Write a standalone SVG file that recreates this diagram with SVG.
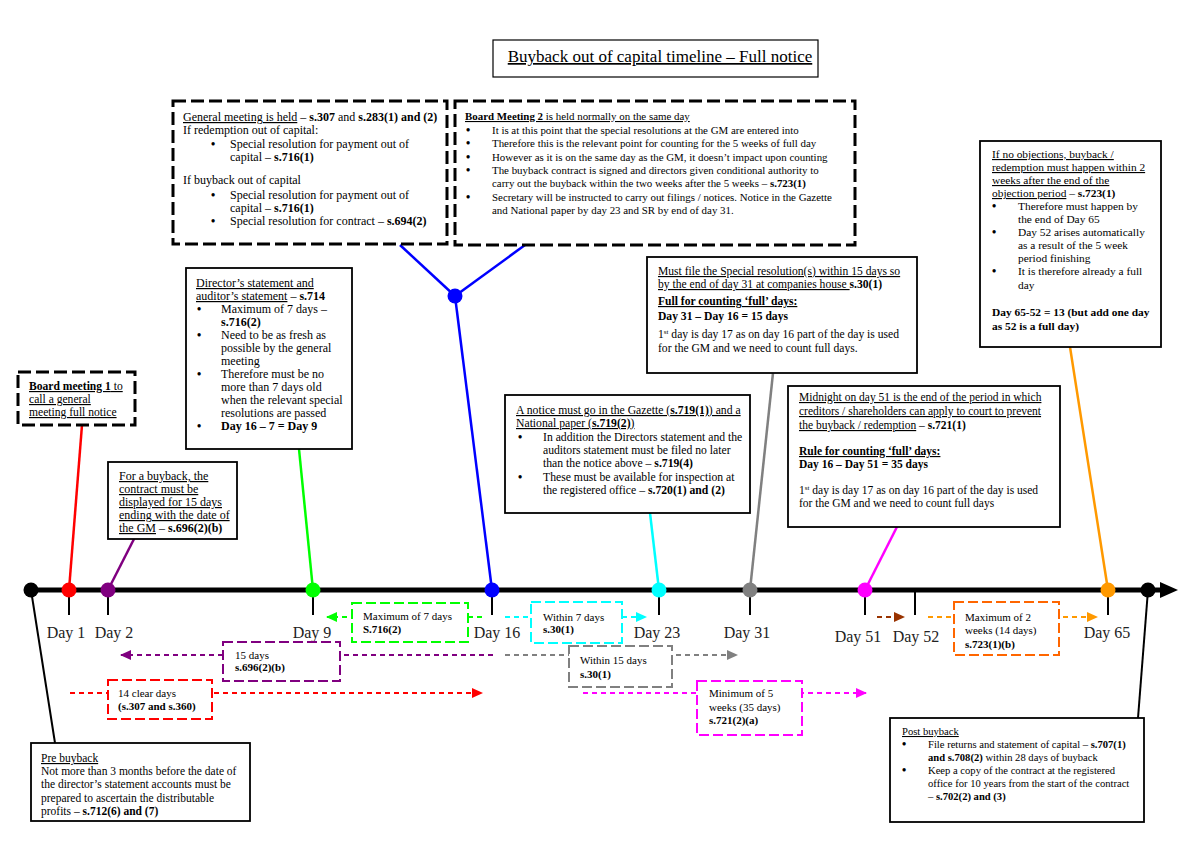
<svg xmlns="http://www.w3.org/2000/svg" width="1200" height="849" viewBox="0 0 1200 849">
<defs>
<style>
.t{font-family:"Liberation Serif","Times New Roman",serif;font-size:11px;fill:#000}
.b{font-weight:bold}
.u{text-decoration:underline}
.bl{font-family:"Liberation Serif","Times New Roman",serif;font-size:12px;font-weight:bold;fill:#000}
.day{font-family:"Liberation Serif","Times New Roman",serif;font-size:16px;fill:#222}
.title{font-family:"Liberation Serif","Times New Roman",serif;font-size:17px;fill:#000;text-decoration:underline}
.box{fill:#fff;stroke:#000;stroke-width:1.8}
.dbox{fill:#fff;stroke:#000;stroke-width:3;stroke-dasharray:13 5}
.tbox{fill:#fff;stroke-width:2;stroke-dasharray:10 4}
.darr{fill:none;stroke-width:2;stroke-dasharray:5 4}
.tick{stroke:#000;stroke-width:2}
.con{fill:none;stroke-width:2.5}
#general-meeting .t{font-size:12px}
#board-meeting-2 .t{font-size:10.9px}
#directors-statement .t{font-size:12px}
#board-meeting-1 .t{font-size:11.6px}
#contract-display .t{font-size:12px}
#file-resolutions .t{font-size:11.6px}
#gazette-notice .t{font-size:11.7px}
#objection-period .t{font-size:11.5px}
#no-objections .t{font-size:11.4px}
#pre-buyback .t{font-size:11.5px}
#post-buyback .t{font-size:10.6px}
</style>
<marker id="aR" markerWidth="11" markerHeight="10" refX="10" refY="5" orient="auto" markerUnits="userSpaceOnUse"><path d="M0,0 L11,5 L0,10 z" fill="#ff0000"/></marker>
<marker id="aP" markerWidth="11" markerHeight="10" refX="10" refY="5" orient="auto" markerUnits="userSpaceOnUse"><path d="M0,0 L11,5 L0,10 z" fill="#800080"/></marker>
<marker id="aG" markerWidth="11" markerHeight="10" refX="10" refY="5" orient="auto" markerUnits="userSpaceOnUse"><path d="M0,0 L11,5 L0,10 z" fill="#00ff00"/></marker>
<marker id="aC" markerWidth="11" markerHeight="10" refX="10" refY="5" orient="auto" markerUnits="userSpaceOnUse"><path d="M0,0 L11,5 L0,10 z" fill="#00ffff"/></marker>
<marker id="aY" markerWidth="11" markerHeight="10" refX="10" refY="5" orient="auto" markerUnits="userSpaceOnUse"><path d="M0,0 L11,5 L0,10 z" fill="#808080"/></marker>
<marker id="aM" markerWidth="11" markerHeight="10" refX="10" refY="5" orient="auto" markerUnits="userSpaceOnUse"><path d="M0,0 L11,5 L0,10 z" fill="#ff00ff"/></marker>
<marker id="aB" markerWidth="11" markerHeight="10" refX="10" refY="5" orient="auto" markerUnits="userSpaceOnUse"><path d="M0,0 L11,5 L0,10 z" fill="#993300"/></marker>
<marker id="aO" markerWidth="11" markerHeight="10" refX="10" refY="5" orient="auto" markerUnits="userSpaceOnUse"><path d="M0,0 L11,5 L0,10 z" fill="#ff9900"/></marker>
</defs>
<rect width="1200" height="849" fill="#fff"/>

<g id="title">
<rect x="493" y="40" width="325" height="37" fill="#fff" stroke="#000" stroke-width="1.2"/>
<text class="title" x="660" y="62" text-anchor="middle">Buyback out of capital timeline – Full notice</text>
</g>

<g id="connectors">
<line class="con" x1="82" y1="425" x2="69" y2="590" stroke="#ff0000"/>
<line class="con" x1="134" y1="539" x2="108" y2="590" stroke="#800080"/>
<line class="con" x1="299" y1="449" x2="313" y2="590" stroke="#00ff00"/>
<line class="con" x1="400" y1="245" x2="455" y2="296" stroke="#0000ff"/>
<line class="con" x1="525" y1="245" x2="455" y2="296" stroke="#0000ff"/>
<line class="con" x1="455" y1="296" x2="492" y2="590" stroke="#0000ff"/>
<line class="con" x1="650" y1="513" x2="659" y2="590" stroke="#00ffff"/>
<line class="con" x1="773" y1="373" x2="750" y2="590" stroke="#808080"/>
<line class="con" x1="903" y1="515" x2="865" y2="590" stroke="#ff00ff"/>
<line class="con" x1="1070" y1="347" x2="1108" y2="590" stroke="#ff9900"/>
<line x1="31" y1="590" x2="55" y2="743" stroke="#000" stroke-width="2"/>
<line x1="1148" y1="590" x2="1138" y2="718" stroke="#000" stroke-width="2"/>
<line x1="31" y1="590" x2="1162" y2="590" stroke="#000" stroke-width="5"/>
<path d="M1160,582 L1178,590 L1160,598 z" fill="#000"/>
<line class="tick" x1="69" y1="590" x2="69" y2="615"/>
<line class="tick" x1="108" y1="590" x2="108" y2="615"/>
<line class="tick" x1="313" y1="590" x2="313" y2="615"/>
<line class="tick" x1="492" y1="590" x2="492" y2="615"/>
<line class="tick" x1="659" y1="590" x2="659" y2="615"/>
<line class="tick" x1="750" y1="590" x2="750" y2="615"/>
<line class="tick" x1="865" y1="590" x2="865" y2="615"/>
<line class="tick" x1="915" y1="590" x2="915" y2="615"/>
<line class="tick" x1="1108" y1="590" x2="1108" y2="615"/>
<circle cx="31" cy="590" r="7.5" fill="#000"/>
<circle cx="69" cy="590" r="7.5" fill="#ff0000"/>
<circle cx="108" cy="590" r="7.5" fill="#800080"/>
<circle cx="313" cy="590" r="7.5" fill="#00ff00"/>
<circle cx="455" cy="296" r="7.5" fill="#0000ff"/>
<circle cx="492" cy="590" r="7.5" fill="#0000ff"/>
<circle cx="659" cy="590" r="7.5" fill="#00ffff"/>
<circle cx="750" cy="590" r="7.5" fill="#808080"/>
<circle cx="865" cy="590" r="7.5" fill="#ff00ff"/>
<circle cx="1108" cy="590" r="7.5" fill="#ff9900"/>
<circle cx="1148" cy="590" r="7.5" fill="#000"/>
<line class="darr" x1="482" y1="617" x2="327" y2="617" stroke="#00ff00" marker-end="url(#aG)"/>
<line class="darr" x1="493" y1="655" x2="121" y2="655" stroke="#800080" marker-end="url(#aP)"/>
<line class="darr" x1="70" y1="693" x2="482" y2="693" stroke="#ff0000" marker-end="url(#aR)"/>
<line class="darr" x1="505" y1="617" x2="646" y2="617" stroke="#00ffff" marker-end="url(#aC)"/>
<line class="darr" x1="505" y1="655" x2="737" y2="655" stroke="#808080" marker-end="url(#aY)"/>
<line class="darr" x1="583" y1="693" x2="866" y2="693" stroke="#ff00ff" marker-end="url(#aM)"/>
<line class="darr" x1="877" y1="617" x2="904" y2="617" stroke="#993300" marker-end="url(#aB)"/>
<line class="darr" x1="928" y1="617" x2="1097" y2="617" stroke="#ff9900" marker-end="url(#aO)"/>
</g>

<g id="day-labels">
<text class="day" x="66" y="638" text-anchor="middle">Day 1</text>
<text class="day" x="114" y="638" text-anchor="middle">Day 2</text>
<text class="day" x="312" y="638" text-anchor="middle">Day 9</text>
<text class="day" x="497" y="638" text-anchor="middle">Day 16</text>
<text class="day" x="657" y="638" text-anchor="middle">Day 23</text>
<text class="day" x="747" y="638" text-anchor="middle">Day 31</text>
<text class="day" x="858" y="642" text-anchor="middle">Day 51</text>
<text class="day" x="916" y="642" text-anchor="middle">Day 52</text>
<text class="day" x="1107" y="638" text-anchor="middle">Day 65</text>
</g>

<g id="period-green">
<rect class="tbox" x="352" y="603" width="116" height="39" stroke="#00ff00"/>
<text class="t" x="363" y="620">Maximum of 7 days</text>
<text class="t b" x="363" y="633">S.716(2)</text>
</g>
<g id="period-purple">
<rect class="tbox" x="223" y="642" width="117" height="39" stroke="#800080"/>
<text class="t" x="235" y="659">15 days</text>
<text class="t b" x="235" y="671">s.696(2)(b)</text>
</g>
<g id="period-red">
<rect class="tbox" x="108" y="680" width="104" height="39" stroke="#ff0000"/>
<text class="t" x="118" y="697">14 clear days</text>
<text class="t b" x="118" y="710">(s.307 and s.360)</text>
</g>
<g id="period-cyan">
<rect class="tbox" x="531" y="602" width="91" height="41" stroke="#00ffff"/>
<text class="t" x="543" y="621">Within 7 days</text>
<text class="t b" x="543" y="633">s.30(1)</text>
</g>
<g id="period-gray">
<rect class="tbox" x="569" y="646" width="103" height="41" stroke="#808080"/>
<text class="t" x="580" y="664">Within 15 days</text>
<text class="t b" x="580" y="678">s.30(1)</text>
</g>
<g id="period-magenta">
<rect class="tbox" x="697" y="681" width="105" height="54" stroke="#ff00ff"/>
<text class="t" x="709" y="697">Minimum of 5</text>
<text class="t" x="709" y="711">weeks (35 days)</text>
<text class="t b" x="709" y="724">s.721(2)(a)</text>
</g>
<g id="period-orange">
<rect class="tbox" x="954" y="602" width="105" height="53" stroke="#ff6600"/>
<text class="t" x="965" y="621">Maximum of 2</text>
<text class="t" x="965" y="634">weeks (14 days)</text>
<text class="t b" x="965" y="648">s.723(1)(b)</text>
</g>

<g id="general-meeting">
<rect class="dbox" x="173" y="101" width="274" height="143"/>
<text class="t" x="183" y="121"><tspan class="u">General meeting is held</tspan> – <tspan class="b">s.307</tspan> and <tspan class="b">s.283(1) and (2)</tspan></text>
<text class="t" x="183" y="134">If redemption out of capital:</text>
<text class="bl" x="211" y="148">•</text><text class="t" x="230" y="148">Special resolution for payment out of</text>
<text class="t" x="230" y="161">capital – <tspan class="b">s.716(1)</tspan></text>
<text class="t" x="183" y="184">If buyback out of capital</text>
<text class="bl" x="211" y="199">•</text><text class="t" x="230" y="199">Special resolution for payment out of</text>
<text class="t" x="230" y="212">capital – <tspan class="b">s.716(1)</tspan></text>
<text class="bl" x="211" y="225">•</text><text class="t" x="230" y="225">Special resolution for contract – <tspan class="b">s.694(2)</tspan></text>
</g>

<g id="board-meeting-2">
<rect class="dbox" x="455" y="101" width="400" height="144"/>
<text class="t" x="465" y="120"><tspan class="u b">Board Meeting 2</tspan><tspan class="u"> is held normally on the same day</tspan></text>
<text class="bl" x="466" y="134">•</text><text class="t" x="492" y="134">It is at this point that the special resolutions at the GM are entered into</text>
<text class="bl" x="466" y="147">•</text><text class="t" x="492" y="147">Therefore this is the relevant point for counting for the 5 weeks of full day</text>
<text class="bl" x="466" y="161">•</text><text class="t" x="492" y="161">However as it is on the same day as the GM, it doesn’t impact upon counting</text>
<text class="bl" x="466" y="174">•</text><text class="t" x="492" y="174">The buyback contract is signed and directors given conditional authority to</text>
<text class="t" x="492" y="187">carry out the buyback within the two weeks after the 5 weeks – <tspan class="b">s.723(1)</tspan></text>
<text class="bl" x="466" y="201">•</text><text class="t" x="492" y="201">Secretary will be instructed to carry out filings / notices. Notice in the Gazette</text>
<text class="t" x="492" y="214">and National paper by day 23 and SR by end of day 31.</text>
</g>

<g id="directors-statement">
<rect class="box" x="186" y="268" width="166" height="181"/>
<text class="t u" x="196" y="287">Director’s statement and</text>
<text class="t" x="196" y="300"><tspan class="u">auditor’s statement</tspan> – <tspan class="b">s.714</tspan></text>
<text class="bl" x="197" y="313">•</text><text class="t" x="221" y="313">Maximum of 7 days –</text>
<text class="t b" x="221" y="326">s.716(2)</text>
<text class="bl" x="197" y="339">•</text><text class="t" x="221" y="339">Need to be as fresh as</text>
<text class="t" x="221" y="352">possible by the general</text>
<text class="t" x="221" y="365">meeting</text>
<text class="bl" x="197" y="378">•</text><text class="t" x="221" y="378">Therefore must be no</text>
<text class="t" x="221" y="391">more than 7 days old</text>
<text class="t" x="221" y="404">when the relevant special</text>
<text class="t" x="221" y="417">resolutions are passed</text>
<text class="bl" x="197" y="430">•</text><text class="t b" x="221" y="430">Day 16 – 7 = Day 9</text>
</g>

<g id="board-meeting-1">
<rect class="dbox" x="18" y="372" width="117" height="53"/>
<text class="t u" x="29" y="390"><tspan class="b">Board meeting 1</tspan> to</text>
<text class="t u" x="29" y="403">call a general </text>
<text class="t u" x="29" y="416">meeting full notice</text>
</g>

<g id="contract-display">
<rect class="box" x="108" y="462" width="129" height="77"/>
<text class="t u" x="119" y="480">For a buyback, the</text>
<text class="t u" x="119" y="493">contract must be</text>
<text class="t u" x="119" y="506">displayed for 15 days</text>
<text class="t u" x="119" y="519">ending with the date of</text>
<text class="t" x="119" y="532"><tspan class="u">the GM</tspan> – <tspan class="b">s.696(2)(b)</tspan></text>
</g>

<g id="file-resolutions">
<rect class="box" x="647" y="257" width="270" height="116"/>
<text class="t u" x="658" y="275">Must file the Special resolution(s) within 15 days so</text>
<text class="t" x="658" y="288"><tspan class="u">by the end of day 31 at companies house </tspan><tspan class="b">s.30(1)</tspan></text>
<text class="t b u" x="658" y="305">Full for counting ‘full’ days:</text>
<text class="t b" x="658" y="320">Day 31 – Day 16 = 15 days</text>
<text class="t" x="658" y="338">1<tspan font-size="7" dy="-4">st</tspan><tspan dy="4"> day is day 17 as on day 16 part of the day is used</tspan></text>
<text class="t" x="658" y="352">for the GM and we need to count full days.</text>
</g>

<g id="gazette-notice">
<rect class="box" x="505" y="395" width="245" height="118"/>
<text class="t u" x="516" y="414">A notice must go in the Gazette (<tspan class="b">s.719(1)</tspan>) and a</text>
<text class="t u" x="516" y="427">National paper (<tspan class="b">s.719(2)</tspan>)</text>
<text class="bl" x="518" y="441">•</text><text class="t" x="543" y="441">In addition the Directors statement and the</text>
<text class="t" x="543" y="454">auditors statement must be filed no later</text>
<text class="t" x="543" y="467">than the notice above – <tspan class="b">s.719(4)</tspan></text>
<text class="bl" x="518" y="481">•</text><text class="t" x="543" y="481">These must be available for inspection at</text>
<text class="t" x="543" y="494">the registered office – <tspan class="b">s.720(1) and (2)</tspan></text>
</g>

<g id="objection-period">
<rect class="box" x="788" y="386" width="272" height="141"/>
<text class="t u" x="799" y="401">Midnight on day 51 is the end of the period in which</text>
<text class="t u" x="799" y="415">creditors / shareholders can apply to court to prevent</text>
<text class="t" x="799" y="429"><tspan class="u">the buyback / redemption</tspan> – <tspan class="b">s.721(1)</tspan></text>
<text class="t b u" x="799" y="455">Rule for counting ‘full’ days:</text>
<text class="t b" x="799" y="468">Day 16 – Day 51 = 35 days</text>
<text class="t" x="799" y="494">1<tspan font-size="7" dy="-4">st</tspan><tspan dy="4"> day is day 17 as on day 16 part of the day is used</tspan></text>
<text class="t" x="799" y="507">for the GM and we need to count full days</text>
</g>

<g id="no-objections">
<rect class="box" x="980" y="141" width="181" height="206"/>
<text class="t u" x="992" y="158">If no objections, buyback /</text>
<text class="t u" x="992" y="171">redemption must happen within 2</text>
<text class="t u" x="992" y="184">weeks after the end of the</text>
<text class="t" x="992" y="197"><tspan class="u">objection period</tspan> – <tspan class="b">s.723(1)</tspan></text>
<text class="bl" x="992" y="210">•</text><text class="t" x="1018" y="210">Therefore must happen by</text>
<text class="t" x="1018" y="223">the end of Day 65</text>
<text class="bl" x="992" y="236">•</text><text class="t" x="1018" y="236">Day 52 arises automatically</text>
<text class="t" x="1018" y="249">as a result of the 5 week</text>
<text class="t" x="1018" y="262">period finishing</text>
<text class="bl" x="992" y="275">•</text><text class="t" x="1018" y="275">It is therefore already a full</text>
<text class="t" x="1018" y="289">day</text>
<text class="t b" x="992" y="316">Day 65-52 = 13 (but add one day</text>
<text class="t b" x="992" y="330">as 52 is a full day)</text>
</g>

<g id="pre-buyback">
<rect class="box" x="31" y="743" width="219" height="78"/>
<text class="t u" x="41" y="762">Pre buyback</text>
<text class="t" x="41" y="775">Not more than 3 months before the date of</text>
<text class="t" x="41" y="788">the director’s statement accounts must be</text>
<text class="t" x="41" y="802">prepared to ascertain the distributable</text>
<text class="t" x="41" y="815">profits – <tspan class="b">s.712(6) and (7)</tspan></text>
</g>

<g id="post-buyback">
<rect class="box" x="890" y="718" width="254" height="104"/>
<text class="t u" x="902" y="735">Post buyback</text>
<text class="bl" x="902" y="748">•</text><text class="t" x="928" y="748">File returns and statement of capital – <tspan class="b">s.707(1)</tspan></text>
<text class="t" x="928" y="761"><tspan class="b">and s.708(2)</tspan> within 28 days of buyback</text>
<text class="bl" x="902" y="774">•</text><text class="t" x="928" y="774">Keep a copy of the contract at the registered</text>
<text class="t" x="928" y="787">office for 10 years from the start of the contract</text>
<text class="t" x="928" y="800">– <tspan class="b">s.702(2) and (3)</tspan></text>
</g>
</svg>
